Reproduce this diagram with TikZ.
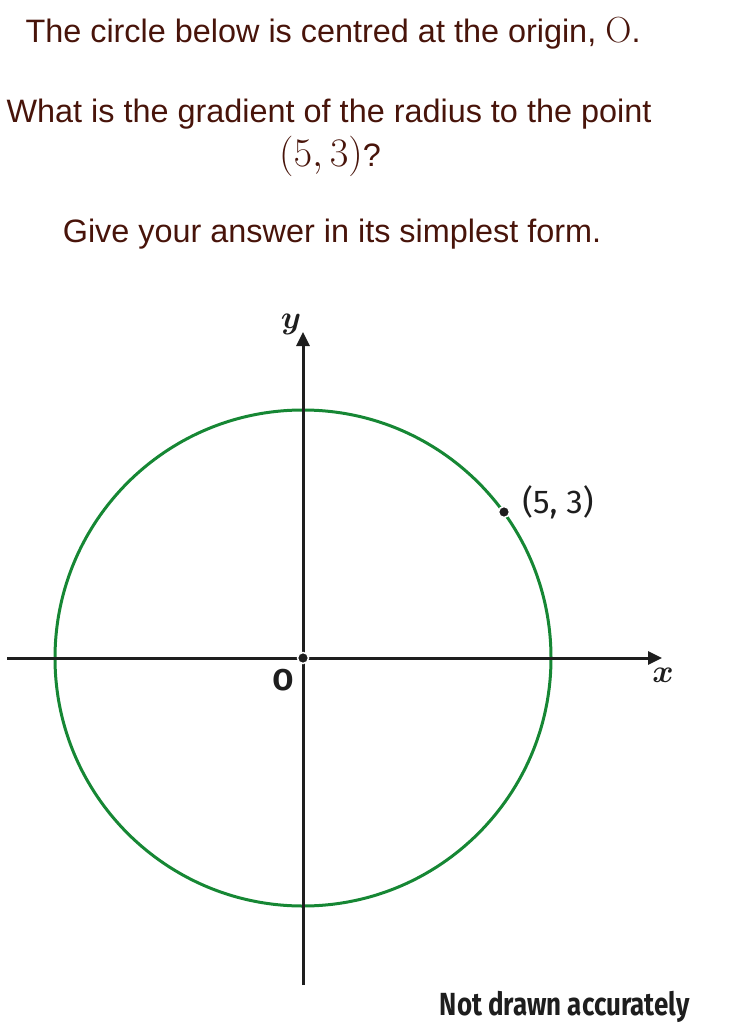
\RequirePackage{fix-cm}
\documentclass[tikz,border=0pt]{standalone}
\usepackage{amsmath}
\usepackage[no-math]{fontspec}
\usepackage{graphicx}
\setmainfont{Liberation Sans}
\newfontfamily\labelfont{Fira Sans}
\usetikzlibrary{arrows.meta}
\definecolor{qtext}{RGB}{72,20,10}
\definecolor{axis}{RGB}{30,30,30}
\definecolor{ring}{RGB}{22,135,52}
\tikzset{
  question/.style={anchor=base, text=qtext, font=\fontsize{32.4}{38}\selectfont},
  axisline/.style={draw=axis, line width=3pt, -{Triangle[length=14pt,width=13pt]}},
  marker/.style={fill=axis, draw=white, line width=1.5pt},
}

\begin{document}
\begin{tikzpicture}[x=1pt,y=-1pt]
        \useasboundingbox (0,0) rectangle (736,1024);
        \node[question] (q1) at (333,43) {The circle below is centred at the origin, \scalebox{1.12}{$\mathrm{O}$}.};
        \node[question] (q2) at (329,123) {What is the gradient of the radius to the point};
        \node[question] (q3) at (330,167) {\scalebox{1.25}{$(5,3)$}?};
        \node[question] (q4) at (332,243) {Give your answer in its simplest form.};
        \coordinate (o) at (303,658);
        \coordinate (p) at (504,512);
        \coordinate (xl) at (7,658);
        \coordinate (xr) at (662,658);
        \coordinate (yb) at (303,985);
        \coordinate (yt) at (303,332);
        \draw[ring, line width=3pt] (o) circle (248pt);
        \draw[axisline] (xl) -- (xr);
        \draw[axisline] (yb) -- (yt);
        \filldraw[marker] (o) circle (5.5pt);
        \filldraw[marker] (p) circle (5.5pt);
        \node[text=axis, font=\fontsize{24}{30}\selectfont] (ylab) at (291,324) {\scalebox{1.35}{$\boldsymbol{y}$}};
        \node[text=axis, font=\fontsize{24}{30}\selectfont] (xlab) at (663,675) {\scalebox{1.35}{$\boldsymbol{x}$}};
        \node[text=axis, font=\labelfont\fontsize{33}{38}\selectfont] (plab) at (558,502) {(5, 3)};
        \node[text=axis, font=\labelfont\bfseries\fontsize{30}{36}\selectfont] (olab) at (283,680) {O};
        \node[anchor=base east, text=axis, font=\labelfont\bfseries\fontsize{32}{38}\selectfont] (note) at (693,1015) {\scalebox{0.81}[1]{Not drawn accurately}};
    \end{tikzpicture}
\end{document}
